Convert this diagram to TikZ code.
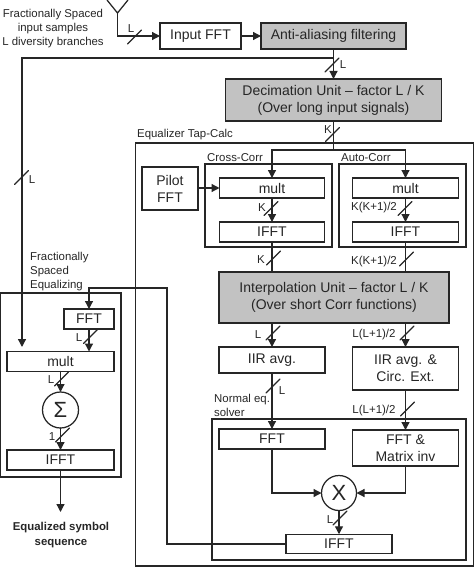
\documentclass[tikz,border=0pt]{standalone}
\usepackage{fontspec}
\setmainfont{Liberation Sans}
\usetikzlibrary{arrows.meta}

\definecolor{unitgray}{HTML}{C2C2C2}
\definecolor{inkgray}{HTML}{262626}

\begin{document}
\begin{tikzpicture}[x=1pt,y=-1pt,line cap=round,line join=miter,
    tip/.style={-{Triangle[length=8pt,width=8pt]}},
    wire/.style={line width=1.25pt,draw=inkgray},
    box/.style={draw=inkgray,line width=1.25pt,rectangle,inner sep=0pt,outer sep=0pt,
      align=center,text=inkgray,font=\fontsize{14}{17}\selectfont},
    unit/.style={box,fill=unitgray},
    group/.style={box,font=\fontsize{1}{1}\selectfont},
    captxt/.style={text=inkgray,inner sep=0pt,align=left,font=\fontsize{11.4}{14.3}\selectfont},
    lbl/.style={text=inkgray,inner sep=0pt,font=\fontsize{11.5}{13}\selectfont},
    slash/.style={line width=1.25pt,draw=inkgray}]
  \useasboundingbox (0,0) rectangle (474,567);

  % outer groups
  \node[group,minimum width=338,minimum height=423] (tapcalc) at (304.5,354.5) {};
  \node[group,minimum width=121,minimum height=184] (fsebox) at (60.5,385) {};
  \node[group,minimum width=127,minimum height=83] (crossbox) at (268.5,205.5) {};
  \node[group,minimum width=127,minimum height=83] (autobox) at (402.5,205.5) {};
  \node[group,minimum width=254,minimum height=141] (solverbox) at (339,489.5) {};

  % top chain
  \node[box,minimum width=81,minimum height=26] (inputfft) at (200.5,36) {Input FFT};
  \node[unit,minimum width=145,minimum height=26] (aafilter) at (333.5,36) {Anti-aliasing filtering};
  \node[unit,minimum width=216,minimum height=42] (decim) at (333.5,100) {Decimation Unit -- factor L / K\\(Over long input signals)};

  % correlators
  \node[box,minimum width=56,minimum height=43] (pilot) at (170,188.5) {Pilot\\FFT};
  \node[box,minimum width=105,minimum height=20] (multcross) at (272,188) {mult};
  \node[box,minimum width=105,minimum height=20] (ifftcross) at (272,232) {IFFT};
  \node[box,minimum width=106,minimum height=20] (multauto) at (405.5,188) {mult};
  \node[box,minimum width=106,minimum height=20] (ifftauto) at (405.5,232) {IFFT};
  \node[unit,minimum width=230,minimum height=51] (interp) at (334,297.5) {Interpolation Unit -- factor L / K\\(Over short Corr functions)};

  % averaging and solver
  \node[box,minimum width=106,minimum height=26] (iiravg) at (272,360) {IIR avg.};
  \node[box,minimum width=106,minimum height=43] (iircirc) at (405.5,368.5) {IIR avg. \&\\Circ. Ext.};
  \node[box,minimum width=106,minimum height=20] (fftsolve) at (272,439) {FFT};
  \node[box,minimum width=106,minimum height=36] (fftinv) at (405.5,448) {FFT \&\\Matrix inv};
  \node[box,circle,minimum size=35,font=\fontsize{22}{22}\selectfont] (xmul) at (339,493) {X};
  \node[box,minimum width=106,minimum height=19.5] (ifftsolve) at (339,544) {IFFT};

  % equalizing
  \node[box,minimum width=50,minimum height=20] (ffteq) at (89,319) {FFT};
  \node[box,minimum width=107,minimum height=20] (multeq) at (60.5,361.5) {mult};
  \node[box,circle,minimum size=36,font=\fontsize{22}{22}\selectfont] (sigma) at (60.5,410) {Σ};
  \node[box,minimum width=107,minimum height=20] (iffteq) at (60.5,460) {IFFT};

  % free ends
  \coordinate (antfeed) at (117.5,13);
  \coordinate (branch) at (333.5,58);
  \coordinate (bendleft) at (22,58);
  \coordinate (fsein) at (22,347);
  \coordinate (tapsplit) at (333.5,150);
  \coordinate (fbturn) at (167,288);
  \coordinate (eqout) at (60.5,512);

  % connectors
  \draw[wire] (107,0) -- (antfeed) -- (128,0);
  \draw[wire,tip] (antfeed) |- (inputfft.west);
  \draw[wire,tip] (inputfft.east) -- (aafilter.west);
  \draw[wire,tip] (aafilter.south) -- (decim.north);
  \draw[wire,tip] (branch) -- (bendleft) -- (fsein);
  \draw[wire] (decim.south) -- (tapsplit);
  \draw[wire,tip] (tapsplit) -| (multcross.north);
  \draw[wire,tip] (tapsplit) -| (multauto.north);
  \draw[wire,tip] (pilot.east |- multcross.west) -- (multcross.west);
  \draw[wire,tip] (multcross.south) -- (ifftcross.north);
  \draw[wire,tip] (multauto.south) -- (ifftauto.north);
  \draw[wire] (ifftcross.south) -- (ifftcross.south |- interp.north);
  \draw[wire] (ifftauto.south) -- (ifftauto.south |- interp.north);
  \draw[wire,tip] (iiravg.north |- interp.south) -- (iiravg.north);
  \draw[wire,tip] (iircirc.north |- interp.south) -- (iircirc.north);
  \draw[wire,tip] (iiravg.south) -- (fftsolve.north);
  \draw[wire,tip] (iircirc.south) -- (fftinv.north);
  \draw[wire,tip] (fftsolve.south) |- (xmul.west);
  \draw[wire,tip] (fftinv.south) |- (xmul.east);
  \draw[wire,tip] (xmul.south) -- (ifftsolve.north);
  \draw[wire,tip] (ifftsolve.west) -| (fbturn) -| (ffteq.north);
  \draw[wire,tip] (ffteq.south) -- (ffteq.south |- multeq.north);
  \draw[wire,tip] (multeq.south) -- (sigma.north);
  \draw[wire,tip] (sigma.south) -- (iffteq.north);
  \draw[wire,tip] (iffteq.south) -- (eqout);

  % bus slashes
  \foreach \sx/\sy in {134.5/37,332/65,332.5/134.5,21.5/177.5,271/208.5,405/208.5,
      273.5/258,406.5/259,273/333,407/333,273/386,407.5/409,340/518,90.5/336.5,
      61.5/379,62.5/435}
    \draw[slash] (\sx-7,\sy+7) -- (\sx+7,\sy-7);

  % bus labels
  \node[lbl] (lbin) at (131,29) {L};
  \node[lbl] (lbaa) at (343,65) {L};
  \node[lbl] (lbdec) at (328,130) {K};
  \node[lbl] (lbleft) at (32,180) {L};
  \node[lbl] (lbmultc) at (262,208) {K};
  \node[lbl] (lbmulta) at (374,208) {K(K+1)/2};
  \node[lbl] (lbifftc) at (261,260) {K};
  \node[lbl] (lbiffta) at (374,262) {K(K+1)/2};
  \node[lbl] (lbintc) at (258,335) {L};
  \node[lbl] (lbinta) at (374,335) {L(L+1)/2};
  \node[lbl] (lbiir) at (282,391) {L};
  \node[lbl] (lbcirc) at (374,411) {L(L+1)/2};
  \node[lbl] (lbx) at (330,520) {L};
  \node[lbl] (lbfft) at (79,338) {L};
  \node[lbl] (lbmult) at (51,380) {L};
  \node[lbl] (lbsum) at (52,437) {1};

  % captions
  \node[captxt,align=center] (capinput) at (53,28.5) {Fractionally Spaced\\input samples\\L diversity branches};
  \node[captxt,anchor=west] (captap) at (137,135) {Equalizer Tap-Calc};
  \node[captxt,anchor=west] (capcross) at (207,158) {Cross-Corr};
  \node[captxt,anchor=west] (capauto) at (341,158) {Auto-Corr};
  \node[captxt,anchor=west] (capfse) at (30,271.5) {Fractionally\\Spaced\\Equalizing};
  \node[captxt,anchor=west] (capsolve) at (214,405.5) {Normal eq.\\solver};
  \node[captxt,align=center,font=\fontsize{11.4}{15}\selectfont\bfseries] (capout) at (61,535.5) {Equalized symbol\\sequence};
\end{tikzpicture}
\end{document}
